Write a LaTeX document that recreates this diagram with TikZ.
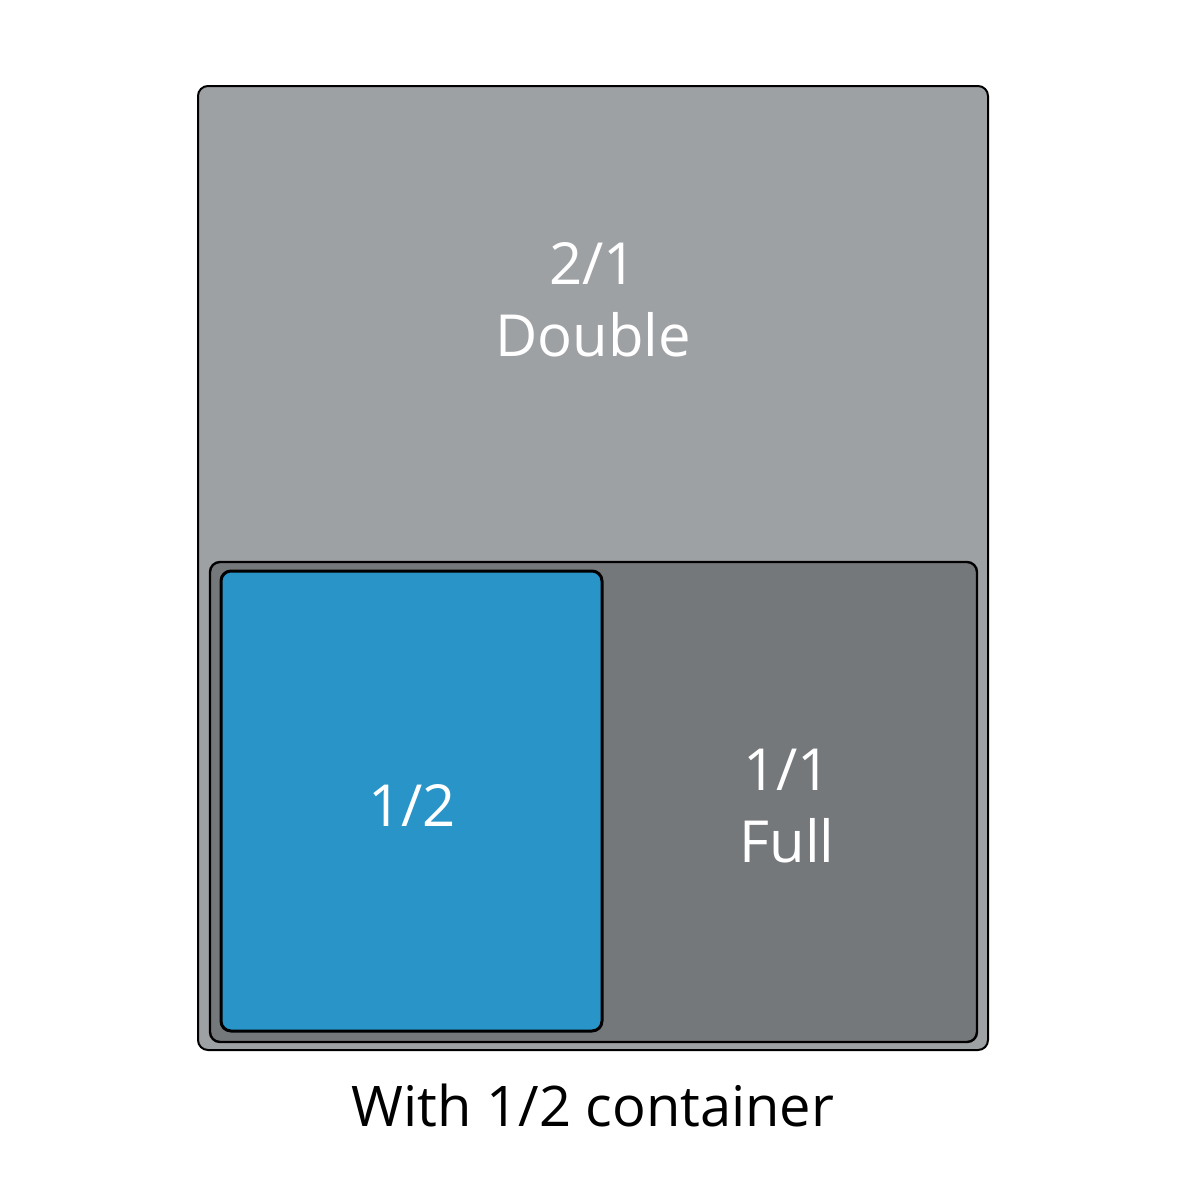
\documentclass[tikz,border=0pt]{standalone}
\usepackage{fontspec}
\setmainfont{Open Sans}
\definecolor{outerg}{HTML}{9EA1A4}
\definecolor{innerg}{HTML}{75787B}
\definecolor{pan}{HTML}{2994C7}
\begin{document}
\begin{tikzpicture}[x=0.5pt,y=-0.5pt,
  box/.style={draw=black,rounded corners=5pt},
  lbl/.style={text=white,font=\fontsize{29}{36}\selectfont,align=center}]
\useasboundingbox (0,0) rectangle (1200,1200);
\fill[white] (0,0) rectangle (1200,1200);
\draw[box,fill=outerg,line width=1pt] (198,86) rectangle (988,1050);
\draw[box,fill=innerg,line width=1.2pt,rounded corners=5pt] (210,562) rectangle (977,1042);
\draw[box,fill=pan,line width=1.5pt,rounded corners=5pt] (221,571) rectangle (602,1031);
\node[lbl] (dbl) at (593,300) {2/1\\Double};
\node[lbl] (half) at (412,805) {1/2};
\node[lbl] (full) at (787,806) {1/1\\Full};
\node[font=\fontsize{28}{34}\selectfont] (cap) at (593,1105) {With 1/2 container};
\end{tikzpicture}
\end{document}
